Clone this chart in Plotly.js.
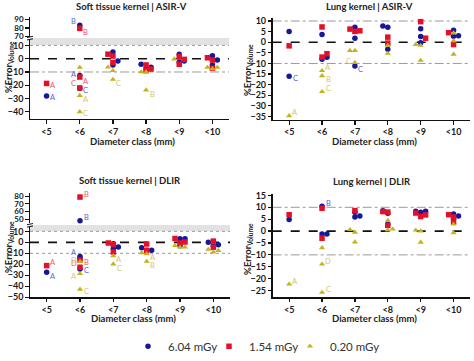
<!DOCTYPE html>
<html><head><meta charset="utf-8">
<script src="https://cdn.plot.ly/plotly-3.0.1.min.js"></script>
<style>html,body{margin:0;padding:0;background:#fff}#chart{width:474px;height:361px}</style>
</head><body><div id="chart"></div>
<script>
// ---------- DATA ----------
const categories = ['<5','<6','<7','<8','<9','<10'];
const seriesNames = ['6.04 mGy','1.54 mGy','0.20 mGy'];

// Panel 1: Soft tissue kernel | ASIR-V
const stAsirBlueCat  = [0, 1,1,1, 2,2,2, 3,3,3, 4,4,4, 5,5,5];
const stAsirBlueSlot = [0, 0,0,0, 0,1,0, -1,0,1, 0,0,1, 0,0,1];
const stAsirBlueVal  = [-28, 83,-12.7,-22.3, 5.0,-1.7,-4.7, -4.2,-7.6,-6.4, 3.4,-2.7,-1.7, 2.2,-4.7,-1];
const stAsirBlueLbl  = ['A','B','A','C','','','','','','','','','','','',''];
const stAsirBlueSide = ['r','tl','l','r','','','','','','','','','','','',''];
const stAsirRedCat   = [0, 1,1,1, 2,2,2, 3,3,3, 4,4,4, 5,5,5];
const stAsirRedSlot  = [0, 0,0,0, -1,0,0, 0,0,1, 0,0,1, -1,0,0];
const stAsirRedVal   = [-18.6, 79.5,-13.8,-22, 3.4,2,-2.9, -4.7,-9,-7.8, 1.7,-4.2,-0.5, 0.7,-1,-7.1];
const stAsirRedLbl   = ['A','B','A','C','','','','','','','','','','','',''];
const stAsirRedSide  = ['r','br','br','tl','','','','','','','','','','','',''];
const stAsirYelCat   = [1,1,1, 2,2,2, 3,3,3, 4, 5,5,5];
const stAsirYelSlot  = [0,0,0, -1,0,0, -1,0,0, -1, -1,1,0];
const stAsirYelVal   = [-6.6,-27.7,-40, -6.4,-9,-15.6, -10,-10,-23.6, -0.3, -6.6,-6.6,-7.6];
const stAsirYelLbl   = ['','A','C','','','C','','','B','','','',''];
const stAsirYelSide  = ['','br','r','','','br','','','br','','','',''];

// Panel 2: Lung kernel | ASIR-V
const luAsirBlueCat  = [0,0, 1,1,1, 2,2,2, 3,3,3, 4,4,4, 5,5,5];
const luAsirBlueSlot = [0,0, 0,0,1, 0,0,0, -1,0,0, 0,0,0, 0,1,0];
const luAsirBlueVal  = [5.1,-16, 3.6,-8,-7.1, 7.1,1.9,-11.2, 7.7,7.1,-3.3, 6.3,2.7,-0.2, 5.7,3.1,2.8];
const luAsirBlueLbl  = ['','C','','','','','','C','','','','','','','','',''];
const luAsirBlueSide = ['','r','','','','','','br','','','','','','','','',''];
const luAsirRedCat   = [0, 1,1,1, 2,2,2, 3,3, 4,4, 5,5];
const luAsirRedSlot  = [0, 0,0,1, -1,0,1, 0,0, 0,1, -1,0];
const luAsirRedVal   = [-1.7, 7.2,-7,-5.4, 6.2,5.1,5.4, 2.4,-0.4, 9.7,1.9, 4.5,-1.1];
const luAsirYelCat   = [0, 1,1,1, 2,2,2, 3,3, 4,4,4, 5,5,5];
const luAsirYelSlot  = [0, 0,0,0, -1,0,0, 0,0, -1,0,0, 0,0,0];
const luAsirYelVal   = [-34.7, -13.4,-15.8,-23.3, -3.9,-3.9,-9.6, -5.3,-1.5, -1.1,-1.5,-8.6, 4.3,0.7,-5.7];
const luAsirYelLbl   = ['A','A','B','C','','','C','','','','','','','',''];
const luAsirYelSide  = ['tr','tr','br','tr','','','l','','','','','','','',''];

// Panel 3: Soft tissue kernel | DLIR
const stDlirBlueCat  = [0, 1,1,1,1, 2,2,2, 3,3,3, 4,4,4, 5,5,5];
const stDlirBlueSlot = [0, 0,0,0,0, 0,0,1, -1,0,1, 0,0,1, -1,0,1];
const stDlirBlueVal  = [-27.2, 48,-13,-14.8,-24.2, -1.2,-5.9,-4.2, -5,-7.1,-7.1, 3.3,-3,3.3, 0,-3.3,-2.1];
const stDlirBlueLbl  = ['A','B','A','','C','','','','','','','','','','','',''];
const stDlirBlueSide = ['br','tr','tl','','r','','','','','','','','','','','',''];
const stDlirRedCat   = [0, 1,1,1, 2,2,2, 3,3, 4,4,4, 5,5];
const stDlirRedSlot  = [0, 0,0,0, -1,0,0, 0,0, -1,0,1, 0,0];
const stDlirRedVal   = [-21.2, 78.8,-16.3,-22.7, -0.6,-2,-8.8, -1.5,-7.5, 3.5,-0.6,0.3, 1.1,-4.5];
const stDlirRedLbl   = ['A','B','B','D','','','','','','','','','',''];
const stDlirRedSide  = ['tr','tr','r','tl','','','','','','','','','',''];
const stDlirYelCat   = [1,1,1, 2,2, 3,3,3, 4,4,4, 5,5,5];
const stDlirYelSlot  = [0,0,0, 0,0, -1,0,0, -1,0,1, -1,0,1];
const stDlirYelVal   = [-17.5,-28.5,-42.8, -12.4,-19.8, -9.5,-10.5,-17.4, -3,-4.4,-4.4, -6.5,-8.8,-7.5];
const stDlirYelLbl   = ['D','A','C','A','C','','A','B','','','','','',''];
const stDlirYelSide  = ['l','bl','r','br','br','','br','br','','','','','',''];

// Panel 4: Lung kernel | DLIR
const luDlirBlueCat  = [0, 1,1,1, 2,2,2, 3,3,3, 4,4,4, 5,5,5];
const luDlirBlueSlot = [0, 0,0,1, 0,0,1, 0,0,-1, -1,0,1, 0,0,1];
const luDlirBlueVal  = [4.9, 10.4,-1.2,-1.2, 7.9,5.9,6.3, 7.5,2.9,8.5, 8.3,7.9,8.3, 7.2,5.2,6.3];
const luDlirBlueLbl  = ['','B','','','','','','','','','','','','','',''];
const luDlirBlueSide = ['','tr','','','','','','','','','','','','','',''];
const luDlirRedCat   = [0, 1,1, 2, 3,3,3, 4,4,4, 5,5,5];
const luDlirRedSlot  = [0, 0,0, 0, -1,0,0, -1,0,1, -1,0,0];
const luDlirRedVal   = [6.9, 9.6,-3, 8.6, 8.2,2.4,8, 7.6,6.1,6.8, 6.9,5.9,3.8];
const luDlirYelCat   = [0, 1,1,1, 2,2,2, 3,3,3, 4,4,4, 5,5];
const luDlirYelSlot  = [0, 0,0,0, -1,0,0, 0,0,1, -1,0,0, 0,0];
const luDlirYelVal   = [-22.3, -7,-13.9,-25.8, 0.6,-0.5,-4.6, 4.5,0.4,0.8, 0.4,0,-4.7, 2.9,-0.7];
const luDlirYelLbl   = ['A','','D','C','','','','','','','','','','',''];
const luDlirYelSide  = ['tr','','tr','tr','','','','','','','','','','',''];

// ---------- STYLE ----------
const W = 474, H = 361;
const JIT = 0.15;
const FONT = 'Lato, "Open Sans", "DejaVu Sans", sans-serif';
const COL = ['#17179a', '#e4102a', '#c6b21a'];
const LBLCOL = ['#5566dd', '#f2566c', '#d6c470'];
const SYM = ['circle', 'square', 'triangle-up'];
const SIDEOFF = {r:[6,2], l:[-6,-1], tl:[-6,-4], tr:[6,-3], br:[6,4], bl:[-6,3]};

const px = v => v / W;
const py = v => 1 - v / H;

const panels = [
  {xa:'x',  ya:'y',  ua:'y2', xdom:[30,229],    ydom:[40,122.3],  yr:[-45.3,14.9], dt:10, udom:[17.5,38.3], ur:[69.3,92.5], uticks:[70,80,90],
   band:[39,46.2], title:'Soft tissue kernel | ASIR-V', tx:131, ty:7, xt:146, yt:[9,69],
   lines:[{v:10,d:'dot'},{v:-10,d:'dashdot'}],
   s:[[stAsirBlueCat,stAsirBlueSlot,stAsirBlueVal,stAsirBlueLbl,stAsirBlueSide],
      [stAsirRedCat,stAsirRedSlot,stAsirRedVal,stAsirRedLbl,stAsirRedSide],
      [stAsirYelCat,stAsirYelSlot,stAsirYelVal,stAsirYelLbl,stAsirYelSide]]},
  {xa:'x2', ya:'y3', ua:null, xdom:[272.7,470], ydom:[19,123.3],  yr:[-36.6,11.2], dt:5,
   title:'Lung kernel | ASIR-V', tx:369, ty:7, xt:146, yt:[248,72],
   lines:[{v:10,d:'dashdot'},{v:-10,d:'dashdot'}],
   s:[[luAsirBlueCat,luAsirBlueSlot,luAsirBlueVal,luAsirBlueLbl,luAsirBlueSide],
      [luAsirRedCat,luAsirRedSlot,luAsirRedVal,null,null],
      [luAsirYelCat,luAsirYelSlot,luAsirYelVal,luAsirYelLbl,luAsirYelSide]]},
  {xa:'x3', ya:'y4', ua:'y5', xdom:[30,230],    ydom:[232.3,305.7], yr:[-50,15], dt:10, udom:[199,229.3], ur:[45.3,83.4], uticks:[50,60,70,80],
   band:[231.5,237.8], title:'Soft tissue kernel | DLIR', tx:130, ty:186, xt:328, yt:[9,254],
   lines:[{v:10,d:'dot'},{v:-10,d:'dot'}],
   s:[[stDlirBlueCat,stDlirBlueSlot,stDlirBlueVal,stDlirBlueLbl,stDlirBlueSide],
      [stDlirRedCat,stDlirRedSlot,stDlirRedVal,stDlirRedLbl,stDlirRedSide],
      [stDlirYelCat,stDlirYelSlot,stDlirYelVal,stDlirYelLbl,stDlirYelSide]]},
  {xa:'x4', ya:'y6', ua:null, xdom:[272.7,470], ydom:[200,305.7], yr:[-27.8,15.4], dt:5,
   title:'Lung kernel | DLIR', tx:372, ty:187, xt:328, yt:[248,256],
   lines:[{v:10,d:'dashdot'},{v:-10,d:'dashdot'}],
   s:[[luDlirBlueCat,luDlirBlueSlot,luDlirBlueVal,luDlirBlueLbl,luDlirBlueSide],
      [luDlirRedCat,luDlirRedSlot,luDlirRedVal,null,null],
      [luDlirYelCat,luDlirYelSlot,luDlirYelVal,luDlirYelLbl,luDlirYelSide]]}
];

const tickFont = {family: FONT, size: 9, color: '#1a1a1a', weight: 'bold'};
const layout = {
  width: W, height: H, margin: {l:0, r:0, t:0, b:0},
  paper_bgcolor: '#fff', plot_bgcolor: 'rgba(0,0,0,0)',
  font: {family: FONT, color: '#222'},
  showlegend: true,
  legend: {orientation:'h', x: px(128), y: py(356), xanchor:'left', yanchor:'middle',
           font:{family:FONT, size:11.5, color:'#333'}, itemwidth:30, traceorder:'normal',
           entrywidth:36, entrywidthmode:'pixels', bgcolor:'rgba(0,0,0,0)'},
  shapes: [], annotations: []
};
const traces = [];

panels.forEach((p, pi) => {
  const xn = p.xa === 'x' ? 'xaxis' : 'xaxis' + p.xa.slice(1);
  const yn = p.ya === 'y' ? 'yaxis' : 'yaxis' + p.ya.slice(1);
  const axCommon = {showline:true, linecolor:'#111', linewidth:1.3, ticks:'outside', ticklen:3.5,
                    tickwidth:1.2, tickcolor:'#111', showgrid:false, zeroline:false, tickfont:tickFont, fixedrange:true};
  layout[xn] = Object.assign({}, axCommon, {domain:[px(p.xdom[0]), px(p.xdom[1])], range:[-0.5, 5.5],
     tickmode:'array', tickvals:categories.map((c,i)=>i), ticktext:categories, anchor:p.ya});
  layout[yn] = Object.assign({}, axCommon, {domain:[py(p.ydom[1]), py(p.ydom[0])], range:p.yr, dtick:p.dt,
     tick0:0, anchor:p.xa});
  if (p.ua) {
    const un = 'yaxis' + p.ua.slice(1);
    layout[un] = Object.assign({}, axCommon, {domain:[py(p.udom[1]), py(p.udom[0])], range:p.ur,
       tickmode:'array', tickvals:p.uticks, anchor:p.xa,
       tickfont:Object.assign({}, tickFont, {size: 8})});
    layout.shapes.push({type:'rect', xref:p.xa+' domain', yref:'paper', x0:0, x1:1,
       y0:py(p.band[1]), y1:py(p.band[0]), fillcolor:'#e2e2e2', line:{width:0}, layer:'below'});
    [p.band[0]-1, p.band[0]+1.5].forEach(yy => layout.shapes.push({type:'line', xref:'paper', yref:'paper',
       x0:px(p.xdom[0]-3), x1:px(p.xdom[0]+3), y0:py(yy+0.6), y1:py(yy-0.6), line:{color:'#111', width:1}}));
  }
  layout.shapes.push({type:'line', xref:p.xa+' domain', yref:p.ya, x0:0, x1:1, y0:0, y1:0,
     line:{color:'#111', width:1.6, dash:'dash'}, layer:'below'});
  p.lines.forEach(l => layout.shapes.push({type:'line', xref:p.xa+' domain', yref:p.ya, x0:0, x1:1, y0:l.v, y1:l.v,
     line:{color:'#9a9a9a', width:1, dash:l.d}, layer:'below'}));
  layout.annotations.push({text:p.title, xref:'paper', yref:'paper', x:px(p.tx), y:py(p.ty), showarrow:false,
     xanchor:'center', yanchor:'middle', font:{family:FONT, size:9.5, color:'#222', weight:'bold'}});
  layout.annotations.push({text:'Diameter class (mm)', xref:'paper', yref:'paper', x:px((p.xdom[0]+p.xdom[1])/2 + 3), y:py(p.xt),
     showarrow:false, xanchor:'center', yanchor:'middle', font:{family:FONT, size:9.5, color:'#222', weight:'bold'}});
  layout.annotations.push({text:'%Error<sub>Volume</sub>', xref:'paper', yref:'paper', x:px(p.yt[0]), y:py(p.yt[1]),
     showarrow:false, textangle:-90, xanchor:'center', yanchor:'middle', font:{family:FONT, size:9.5, color:'#222', weight:'bold'}});

  p.s.forEach((s, si) => {
    const [cat, slot, val, lbl, side] = s;
    const split = p.ua ? [[p.ya, v => v <= p.yr[1]], [p.ua, v => v > p.yr[1]]] : [[p.ya, v => true]];
    split.forEach(([axis, keep], k) => {
      const idx = val.map((v,i)=>i).filter(i => keep(val[i]));
      if (!idx.length) return;
      traces.push({
        type:'scatter', mode:'markers', xaxis:p.xa, yaxis:axis,
        x: idx.map(i => cat[i] + JIT*slot[i]), y: idx.map(i => val[i]),
        marker:{symbol:SYM[si], color:COL[si], size:5.5, line:{width:0}},
        name: seriesNames[si], showlegend: pi===0 && k===0, legendgroup: 'g'+si, cliponaxis:false,
        hoverinfo:'skip'
      });
      if (lbl) idx.filter(i => lbl[i]).forEach(i => {
        const off = SIDEOFF[side[i] || 'r'];
        layout.annotations.push({text:lbl[i], xref:p.xa, yref:axis, x:cat[i] + JIT*slot[i], y:val[i],
          showarrow:false, xshift:off[0], yshift:-off[1], xanchor:'center', yanchor:'middle',
          font:{family:FONT, size:7.5, color:LBLCOL[si]}});
      });
    });
  });
});

// invisible spacer entry so the last legend text is not clipped
traces.push({type:'scatter', mode:'markers', xaxis:'x', yaxis:'y', x:[null], y:[null], name:' ',
  marker:{opacity:0, color:'rgba(0,0,0,0)'}, showlegend:true, legendgroup:'g3', hoverinfo:'skip'});

Plotly.newPlot('chart', traces, layout, {staticPlot:true, displayModeBar:false});
</script>
</body></html>
